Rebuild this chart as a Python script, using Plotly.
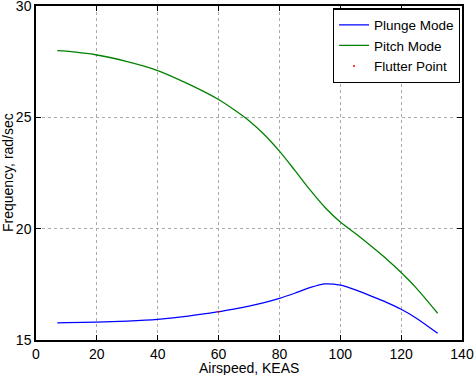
import plotly.graph_objects as go

airspeed = [7, 10, 20, 30, 40, 50, 60, 65, 70, 75, 80, 85, 90, 95, 100, 105, 110, 115, 120, 125, 132]
pitch_mode = [28.0, 27.97, 27.8, 27.5, 27.1, 26.5, 25.8, 25.35, 24.85, 24.23, 23.48, 22.63, 21.75, 20.95,
              20.3, 19.78, 19.23, 18.66, 18.03, 17.33, 16.2]
plunge_mode = [15.77, 15.78, 15.8, 15.85, 15.93, 16.07, 16.27, 16.39, 16.52, 16.68, 16.87, 17.1, 17.35,
               17.52, 17.46, 17.25, 16.98, 16.7, 16.38, 15.98, 15.3]
flutter_x = [60]
flutter_y = [16.27]

x_ticks = [0, 20, 40, 60, 80, 100, 120, 140]
y_ticks = [15, 20, 25, 30]

FAM = "Liberation Sans, Arial, sans-serif"
font = dict(family=FAM, size=14, color="black")

fig = go.Figure()
fig.add_trace(go.Scatter(x=airspeed, y=plunge_mode, mode="lines", name="Plunge Mode",
                         line=dict(color="#0000ff", width=1.3, shape="spline", smoothing=0.8)))
fig.add_trace(go.Scatter(x=airspeed, y=pitch_mode, mode="lines", name="Pitch Mode",
                         line=dict(color="#008000", width=1.3, shape="spline", smoothing=0.8)))
fig.add_trace(go.Scatter(x=flutter_x, y=flutter_y, mode="markers", name="Flutter Point",
                         marker=dict(color="red", size=2)))

axis_common = dict(
    showline=True, linecolor="black", linewidth=1.5, mirror="ticks",
    ticks="inside", ticklen=5, tickcolor="black", tickwidth=1,
    showgrid=True, gridcolor="#aaaaaa", griddash="dot", gridwidth=1,
    zeroline=False, tickfont=font, automargin=False, ticklabeloverflow="allow",
)

fig.update_layout(
    width=474, height=375,
    margin=dict(l=36, r=12, t=6, b=35),
    paper_bgcolor="white", plot_bgcolor="white",
    font=font,
    showlegend=True,
    legend=dict(x=0.995, y=0.993, xanchor="right", yanchor="top",
                bordercolor="black", borderwidth=1.2, bgcolor="white",
                font=dict(family=FAM, size=13.5),
                tracegroupgap=0, itemwidth=30),
    xaxis=dict(range=[0, 140], tickvals=x_ticks, ticklabelstandoff=0, **axis_common),
    yaxis=dict(range=[15, 30], tickvals=y_ticks, ticklabelstandoff=0, **axis_common),
    annotations=[
        dict(text="Airspeed, KEAS", xref="paper", yref="paper", x=0.5, y=0,
             yshift=-19, xanchor="center", yanchor="top", borderpad=0,
             showarrow=False, font=font),
        dict(text="Frequency, rad/sec", xref="paper", yref="paper", x=0, y=0.5,
             xshift=-37, xanchor="left", yanchor="middle", textangle=-90, borderpad=0,
             showarrow=False, font=font),
    ],
)

fig.write_html("out.html", config={"displayModeBar": False},
               post_script="document.body.style.margin='0';document.body.style.overflow='hidden';")
